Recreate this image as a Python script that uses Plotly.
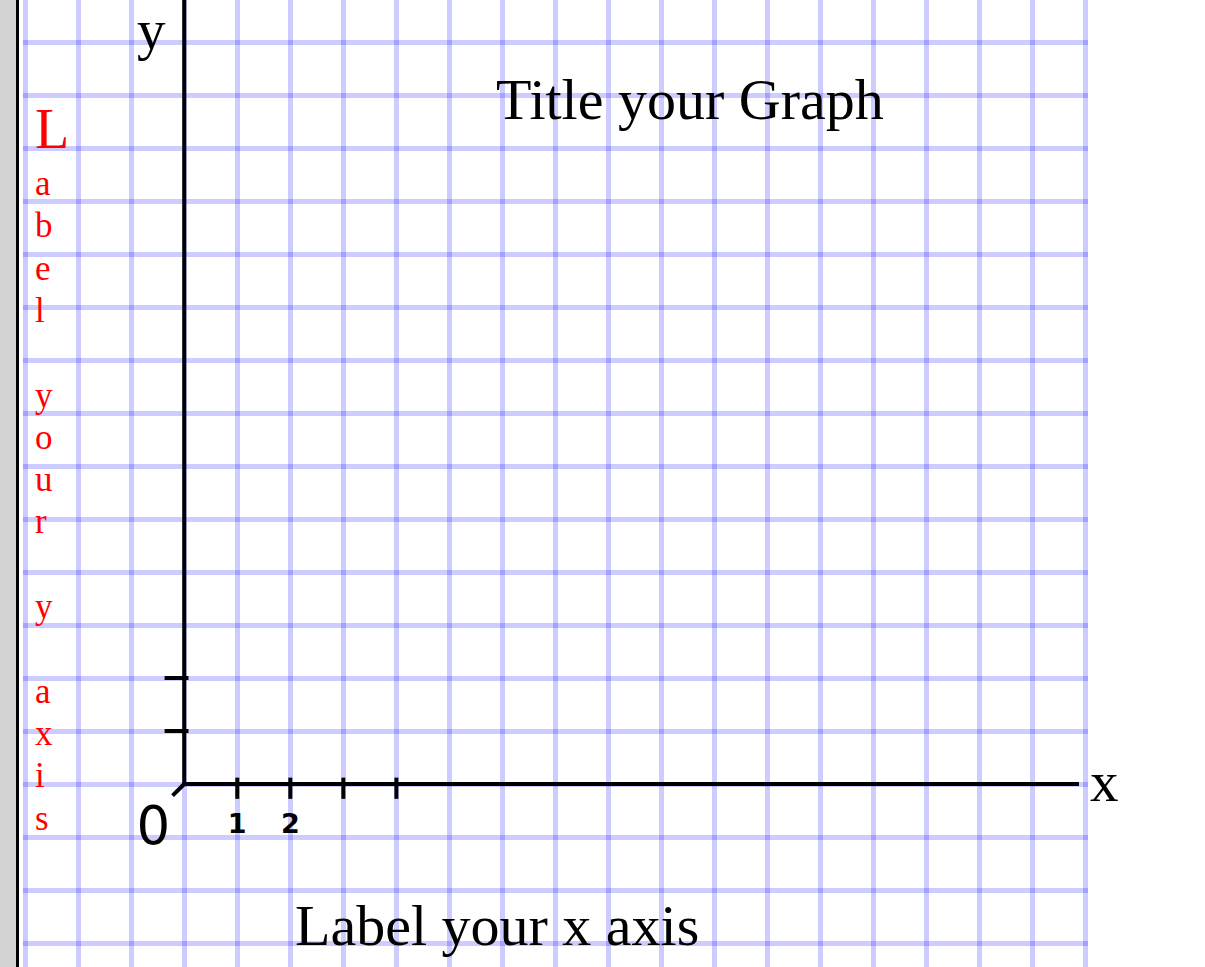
import plotly.graph_objects as go

# ---- data ----
x_tick_vals = [1, 2, 3, 4]
x_tick_text = ["1", "2", "", ""]
y_tick_vals = [1, 2]
origin_label = ["0"]
x_axis_end = 16.87
y_axis_top = 15

title_text = "Title your Graph"
x_label_text = "Label your x axis"
y_label_text = "Label your y axis"
x_name = "x"
y_name = "y"

# ---- page geometry (pixels) ----
W, H = 1205, 967
L_M, PLOT_W = 23, 1065
UNIT_X, UNIT_Y = 53.05, 53.0
X_RANGE = [-3.04, 17.04]
Y_RANGE = [-183 / UNIT_Y, 784 / UNIT_Y]


def px(p):
    return (p - L_M) / PLOT_W


def py(p):
    return 1 - p / H


SERIF = "Liberation Serif, Times New Roman, serif"
HAND = "DejaVu Sans, sans-serif"
INK = "black"
GRID = "rgba(0,0,255,0.2)"

fig = go.Figure()

# axes drawn by hand (they sit inside the grid)
fig.add_trace(go.Scatter(
    x=[0, 0, x_axis_end], y=[y_axis_top, 0, 0],
    mode="lines", line=dict(color=INK, width=4), hoverinfo="skip",
))

# tick marks
tx, ty = [], []
for v in x_tick_vals:
    tx += [v, v, None]
    ty += [0.12, -0.28, None]
for v in y_tick_vals:
    tx += [-0.37, 0.08, None]
    ty += [v, v, None]
# little hook at the origin
tx += [-0.22, 0]
ty += [-0.22, 0]
fig.add_trace(go.Scatter(
    x=tx, y=ty, mode="lines", line=dict(color=INK, width=4), hoverinfo="skip",
))

# hand written numbers
fig.add_trace(go.Scatter(
    x=x_tick_vals, y=[-0.8] * len(x_tick_vals), text=x_tick_text,
    mode="text", textposition="middle center",
    textfont=dict(family=HAND, size=27, color=INK, weight="bold"),
    hoverinfo="skip",
))
fig.add_trace(go.Scatter(
    x=[-0.58], y=[-0.88], text=origin_label,
    mode="text", textposition="middle center",
    textfont=dict(family=HAND, size=53, color=INK),
    hoverinfo="skip",
))

annotations = [
    dict(text=title_text, x=px(690), y=py(117 - 0.3 * 58), font=dict(size=58)),
    dict(text=x_label_text, x=px(497), y=py(943 - 0.3 * 58), font=dict(size=58)),
    dict(text=y_name, x=px(151), y=py(47 - 0.3 * 57), font=dict(size=57)),
    dict(text=x_name, x=px(1104), y=py(799 - 0.3 * 57), font=dict(size=57)),
]
for a in annotations:
    a.update(xref="paper", yref="paper", showarrow=False, borderpad=0,
             xanchor="center", yanchor="middle")
    a["font"].update(family=SERIF, color=INK)

# red vertical y-axis label, one letter per line
red_chars = list(y_label_text)
annotations.append(dict(
    text=red_chars[0], x=px(34), y=py(146 - 0.3 * 56),
    font=dict(family=SERIF, size=56, color="red"),
))
for k, ch in enumerate(red_chars[1:]):
    if ch == " ":
        continue
    base = 194 + 42.3 * k
    annotations.append(dict(
        text=ch, x=px(34), y=py(base - 0.3 * 35),
        font=dict(family=SERIF, size=35, color="red"),
    ))
for a in annotations[4:]:
    a.update(xref="paper", yref="paper", showarrow=False, borderpad=0,
             xanchor="left", yanchor="middle")

fig.update_layout(
    width=W, height=H,
    margin=dict(l=L_M, r=W - L_M - PLOT_W, t=0, b=0),
    plot_bgcolor="white", paper_bgcolor="white",
    showlegend=False,
    annotations=annotations,
    shapes=[
        # grey window edge and its dark border
        dict(type="rect", xref="paper", yref="paper", x0=px(0), x1=px(16),
             y0=0, y1=1, fillcolor="#d3d3d3", line=dict(width=0), layer="below"),
        dict(type="line", xref="paper", yref="paper", x0=px(17.5), x1=px(17.5),
             y0=0, y1=1, line=dict(color=INK, width=3)),
    ],
)
fig.update_xaxes(range=X_RANGE, dtick=1, tick0=0, showgrid=True, gridcolor=GRID,
                 gridwidth=5, zeroline=False, showticklabels=False, ticks="",
                 showline=False, fixedrange=True)
fig.update_yaxes(range=Y_RANGE, dtick=1, tick0=0, showgrid=True, gridcolor=GRID,
                 gridwidth=5, zeroline=False, showticklabels=False, ticks="",
                 showline=False, fixedrange=True)

# page has no body margin in the reference
fig.write_html("out.html", config={"displayModeBar": False},
               post_script="document.body.style.margin='0';")
